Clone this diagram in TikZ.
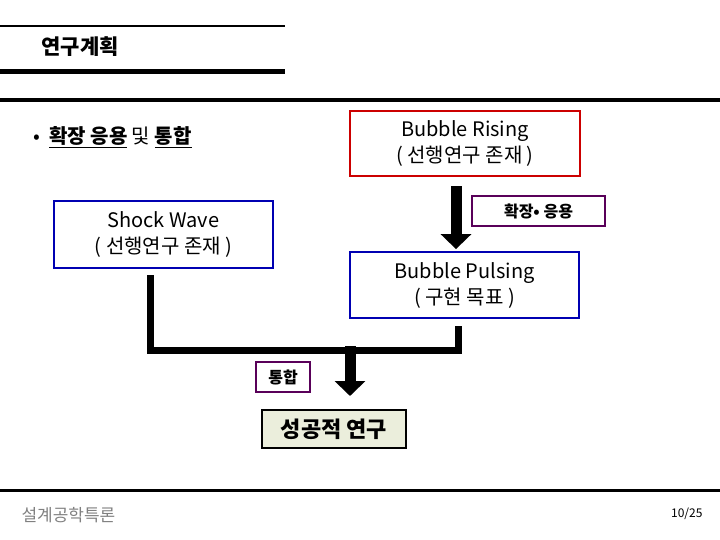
\documentclass[tikz,border=0pt]{standalone}
\usepackage{fontspec}
\setmainfont{Noto Sans CJK KR}
\usetikzlibrary{arrows.meta}
\tikzset{
  box/.style={draw=#1, line width=2.2pt, inner sep=0pt, align=center, font=\fontsize{20}{26}\selectfont},
  tag/.style={draw=violet!70!black, line width=2pt, inner sep=0pt, font=\bfseries\fontsize{16}{18}\selectfont},
  fat/.style={line width=7pt},
  bigarrow/.style={line width=11pt, -{Triangle[width=30pt,length=15pt]}}
}
\begin{document}
\begin{tikzpicture}[x=1pt,y=-1pt]
\useasboundingbox (0,0) rectangle (720,540);
\draw[line width=2pt] (0,26) -- (285,26);
\draw[line width=5pt] (0,72) -- (285,72);
\node[anchor=west, font=\bfseries\fontsize{21}{24}\selectfont] (title) at (38,47) {연구계획};
\draw[line width=4pt] (0,100) -- (720,100);
\node[anchor=west, font=\fontsize{20}{24}\selectfont] (bullet) at (30,137) {•\ \ \textbf{\underline{확장 응용}} 및 \textbf{\underline{통합}}};
\node[box=red!80!black, minimum width=230pt, minimum height=65pt] (rise) at (465,143.5) {Bubble Rising\\( 선행연구 존재 )};
\node[box=blue!70!black, minimum width=219pt, minimum height=67pt] (shock) at (163.5,234.5) {Shock Wave\\( 선행연구 존재 )};
\node[box=blue!70!black, minimum width=229pt, minimum height=66pt] (pulse) at (464.5,285) {Bubble Pulsing\\( 구현 목표 )};
\node[tag, minimum width=133pt, minimum height=30pt] (ext) at (538.5,211) {확장• 응용};
\node[tag, minimum width=54pt, minimum height=30pt] (int) at (283,377) {통합};
\node[draw, line width=2pt, fill={rgb,255:red,235;green,238;blue,220}, minimum width=144pt, minimum height=38pt, inner sep=0pt, font=\bfseries\fontsize{22}{26}\selectfont] (succ) at (334,429) {성공적 연구};
\draw[bigarrow] (rise.south -| 456,0) ++(0,9) -- ++(0,63);
\draw[fat] (150,275) -- (150,350) -- (458,350) -- (458,326);
\draw[bigarrow] (350,346) -- (350,396);
\draw[line width=3pt] (0,490) -- (720,490);
\node[anchor=west, text=gray, font=\fontsize{17}{20}\selectfont] (foot) at (18,515) {설계공학특론};
\node[anchor=east, font=\fontsize{12}{14}\selectfont] (page) at (706,514) {10/25};
\end{tikzpicture}
\end{document}
